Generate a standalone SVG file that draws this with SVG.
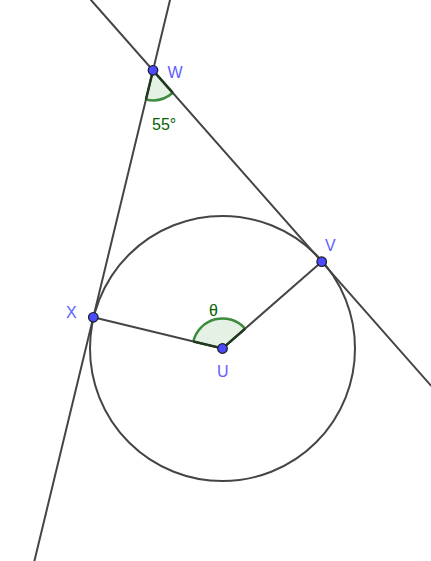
<svg xmlns="http://www.w3.org/2000/svg" width="431" height="561" viewBox="0 0 431 561">
<style>
.ln{stroke:#454545;stroke-width:2;fill:none;stroke-linecap:round}
.ang{fill:#e6f1e6;stroke:none}
.arc{fill:none;stroke:#3c8c3c;stroke-width:2.5}
.edge{stroke:#1f3a1f;stroke-width:2.5;fill:none}
.pt{fill:#4a4aff;stroke:#1a1a1a;stroke-width:1.2}
.lbl{font-family:"Liberation Sans",Arial,sans-serif;font-size:16px;fill:#6060ff}
.albl{font-family:"Liberation Sans",Arial,sans-serif;font-size:16px;fill:#006400}
</style>
<rect width="431" height="561" fill="#ffffff"/>
<g id="angles">
<path class="ang" d="M153,70.3 L145.95,99.46 A30,30 0 0 0 172.8,92.8 Z"/>
<path class="arc" d="M145.95,99.46 A30,30 0 0 0 172.8,92.8"/>
<path class="ang" d="M222.5,348.5 L193.3,341.5 A30,30 0 0 1 245.1,328.7 Z"/>
<path class="arc" d="M193.3,341.5 A30,30 0 0 1 245.1,328.7"/>
</g>
<g id="connectors">
<circle class="ln" cx="222.5" cy="348.5" r="132.5"/>
<line class="ln" x1="170" y1="0" x2="34.4" y2="561"/>
<line class="ln" x1="91" y1="0" x2="431" y2="385.7"/>
<line class="ln" x1="93.3" y1="317.3" x2="222.5" y2="348.5"/>
<line class="ln" x1="222.5" y1="348.5" x2="321.7" y2="261.7"/>
<path class="edge" d="M145.95,99.46 L153,70.3 L172.8,92.8"/>
<path class="edge" d="M193.3,341.5 L222.5,348.5 L245.1,328.7"/>
</g>
<g id="W"><circle class="pt" cx="153" cy="70.3" r="4.8"/><text class="lbl" x="167.5" y="77.5">W</text></g>
<g id="X"><circle class="pt" cx="93.3" cy="317.3" r="4.8"/><text class="lbl" x="66" y="317.5">X</text></g>
<g id="V"><circle class="pt" cx="321.7" cy="261.7" r="4.8"/><text class="lbl" x="325" y="250.5">V</text></g>
<g id="U"><circle class="pt" cx="222.5" cy="348.5" r="4.8"/><text class="lbl" x="217" y="376.5">U</text></g>
<g id="labels">
<text class="albl" x="152" y="129.5">55°</text>
<text class="albl" x="209" y="316">θ</text>
</g>
</svg>
